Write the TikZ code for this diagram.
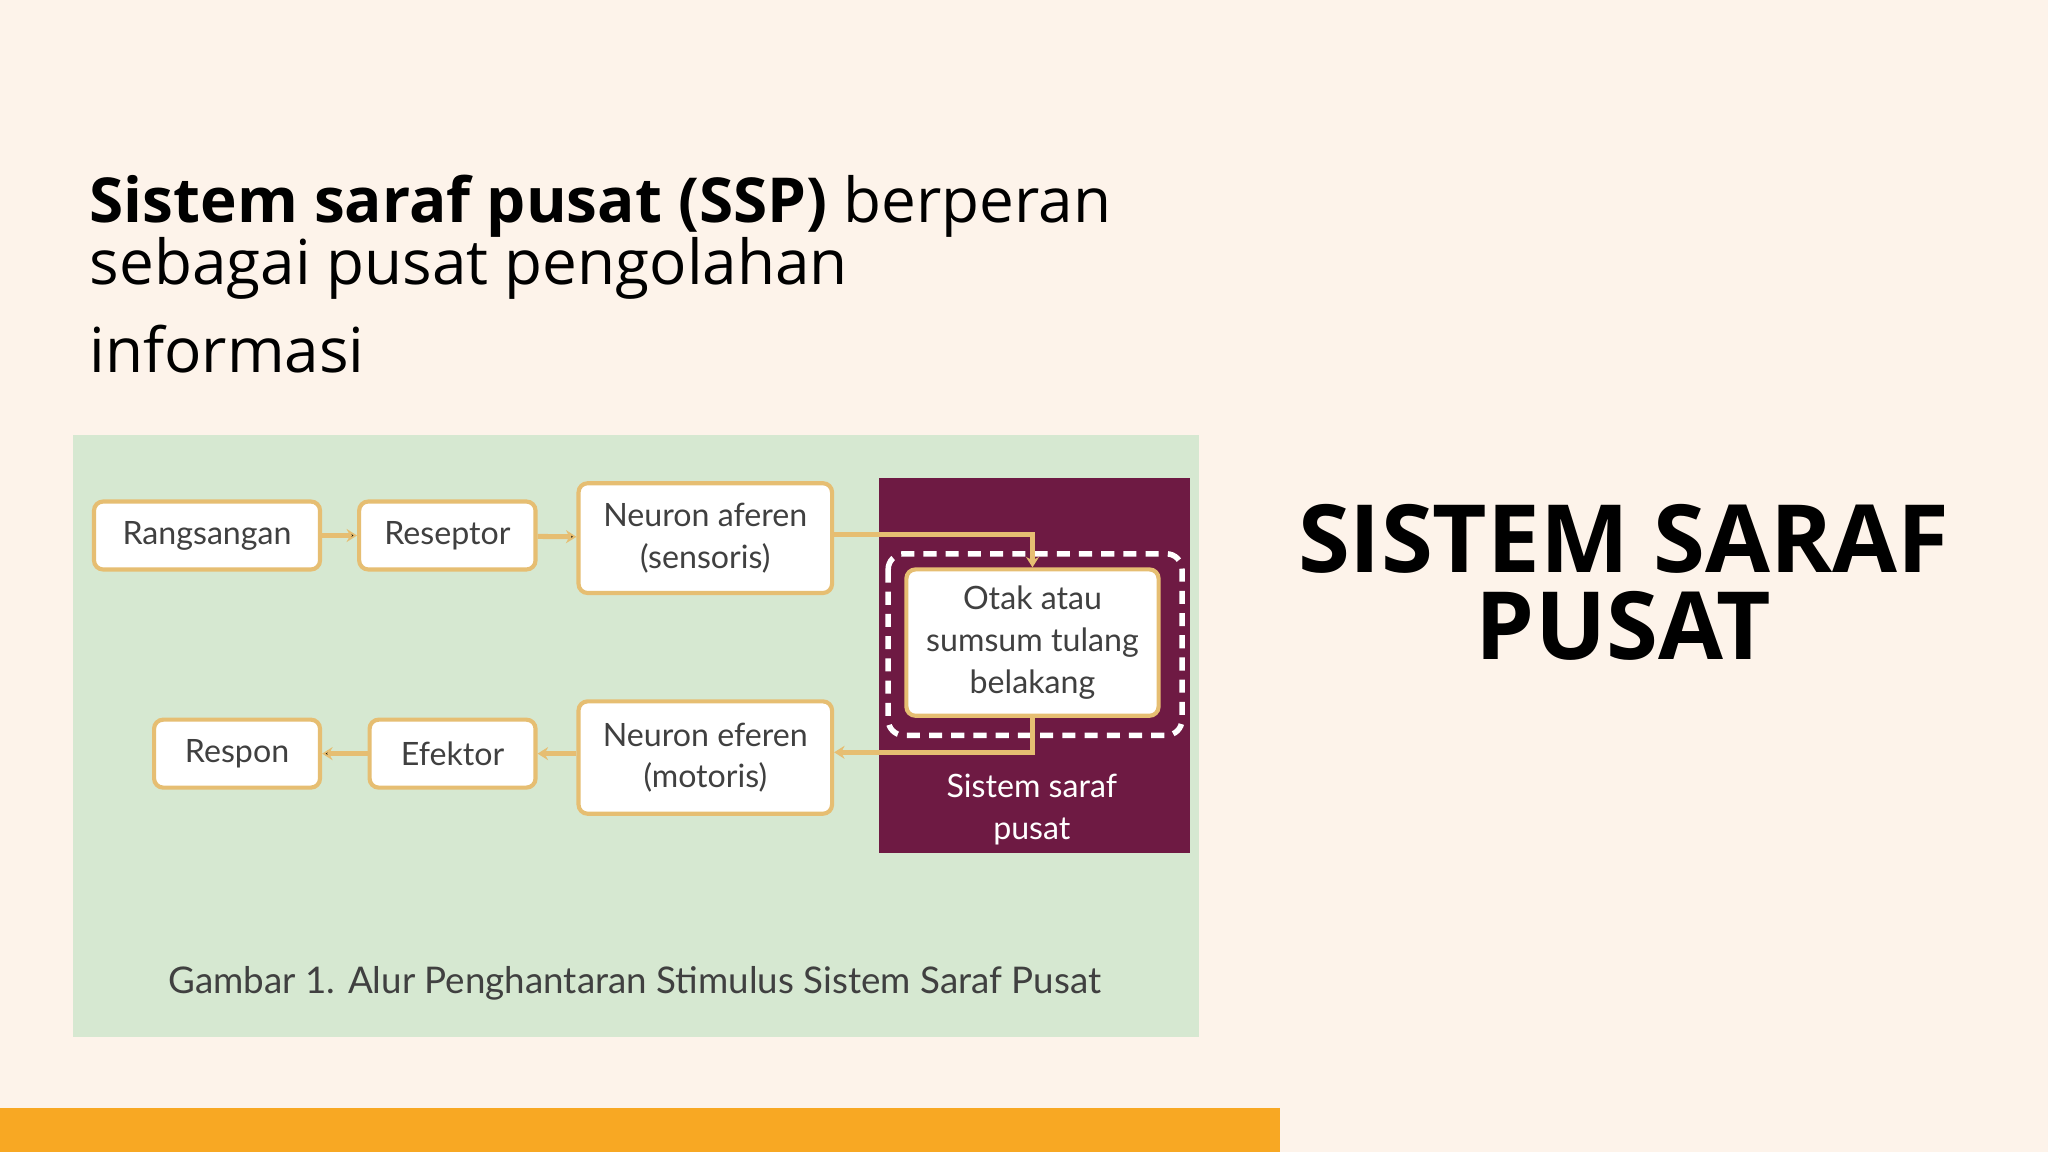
\documentclass[tikz,border=0pt]{standalone}
\usepackage{fontspec}
\setmainfont{Open Sans}
\newfontfamily\figfont{Lato}
\usetikzlibrary{arrows.meta}
\usetikzlibrary{positioning}
\definecolor{pagebg}{HTML}{FDF3EA}
\definecolor{panelbg}{HTML}{D6E8D1}
\definecolor{plum}{HTML}{6E1A43}
\definecolor{tan}{HTML}{E6BE72}
\definecolor{barorange}{HTML}{F8A823}
\tikzset{flow box/.style={rectangle,rounded corners=0.07cm,fill=white,draw=tan,line width=0.9pt,align=center,font=\figfont\fontsize{7}{9}\selectfont,text=black!75,inner sep=0pt}}
\tikzset{flow line/.style={draw=tan,line width=1.1pt,-{Stealth[length=0.08cm,width=0.1cm]}}}
\begin{document}
\begin{tikzpicture}[x=0.01cm,y=-0.01cm]
	\useasboundingbox (0,0) rectangle (1568,882);
	\fill[pagebg] (0,0) rectangle (1568,882);
	\fill[barorange] (0,848) rectangle (980,882);
	\fill[panelbg] (56,333) rectangle (918,794);
	\fill[plum] (673,366) rectangle (911,653);

	\node[anchor=base west,inner sep=0pt,font=\fontsize{13.5}{16}\selectfont] (line_{1}) at (68,170) {\textbf{Sistem saraf pusat (SSP)} berperan};
	\node[anchor=base west,inner sep=0pt,font=\fontsize{13.5}{16}\selectfont] (line_{2}) at (68,218) {sebagai pusat pengolahan};
	\node[anchor=base west,inner sep=0pt,font=\fontsize{13.5}{16}\selectfont] (line_{3}) at (68,285) {informasi};
	\node[align=center,font=\bfseries\fontsize{20.5}{19}\selectfont] (title) at (1243,446) {SISTEM SARAF\\PUSAT};

	\draw[white,line width=1.2pt,dash pattern=on 0.1cm off 0.07cm,rounded corners=0.12cm] (680,424) rectangle (905,563);

	\node[flow box,minimum width=1.73cm,minimum height=0.52cm] (v_{1}) at (158.5,410) {Rangsangan};
	\node[flow box,minimum width=1.35cm,minimum height=0.52cm] (v_{2}) at (342.5,410) {Reseptor};
	\node[flow box,minimum width=1.94cm,minimum height=0.84cm] (v_{3}) at (540,412) {Neuron aferen\\(sensoris)};
	\node[flow box,minimum width=1.93cm,minimum height=1.12cm,font=\figfont\fontsize{7}{9.2}\selectfont] (v_{4}) at (790.5,492) {Otak atau\\sumsum tulang\\belakang};
	\node[flow box,minimum width=1.94cm,minimum height=0.86cm] (v_{5}) at (540,580) {Neuron eferen\\(motoris)};
	\node[flow box,minimum width=1.27cm,minimum height=0.52cm] (v_{6}) at (346.5,577) {Efektor};
	\node[flow box,minimum width=1.27cm,minimum height=0.52cm] (v_{7}) at (181.5,577) {Respon};

	\node[align=center,text=white,font=\figfont\fontsize{7}{9.2}\selectfont] (cns) at (790,620) {Sistem saraf\\pusat};
	\node[text=black!75,font=\figfont\fontsize{8}{10}\selectfont] (caption) at (486,753) {Gambar 1. Alur Penghantaran Stimulus Sistem Saraf Pusat};

	\path[flow line]
	(v_{1}) edge (v_{2})
	(v_{2}) edge (v_{3})
	(v_{6}) edge (v_{7});
	\draw[flow line] (v_{5}.west |- v_{6}) -- (v_{6});
	\draw[flow line] (v_{3}.east |- 0,409) -| (v_{4}.north);
	\draw[flow line] (v_{4}.south) |- (v_{5}.east |- 0,576);
\end{tikzpicture}
\end{document}
